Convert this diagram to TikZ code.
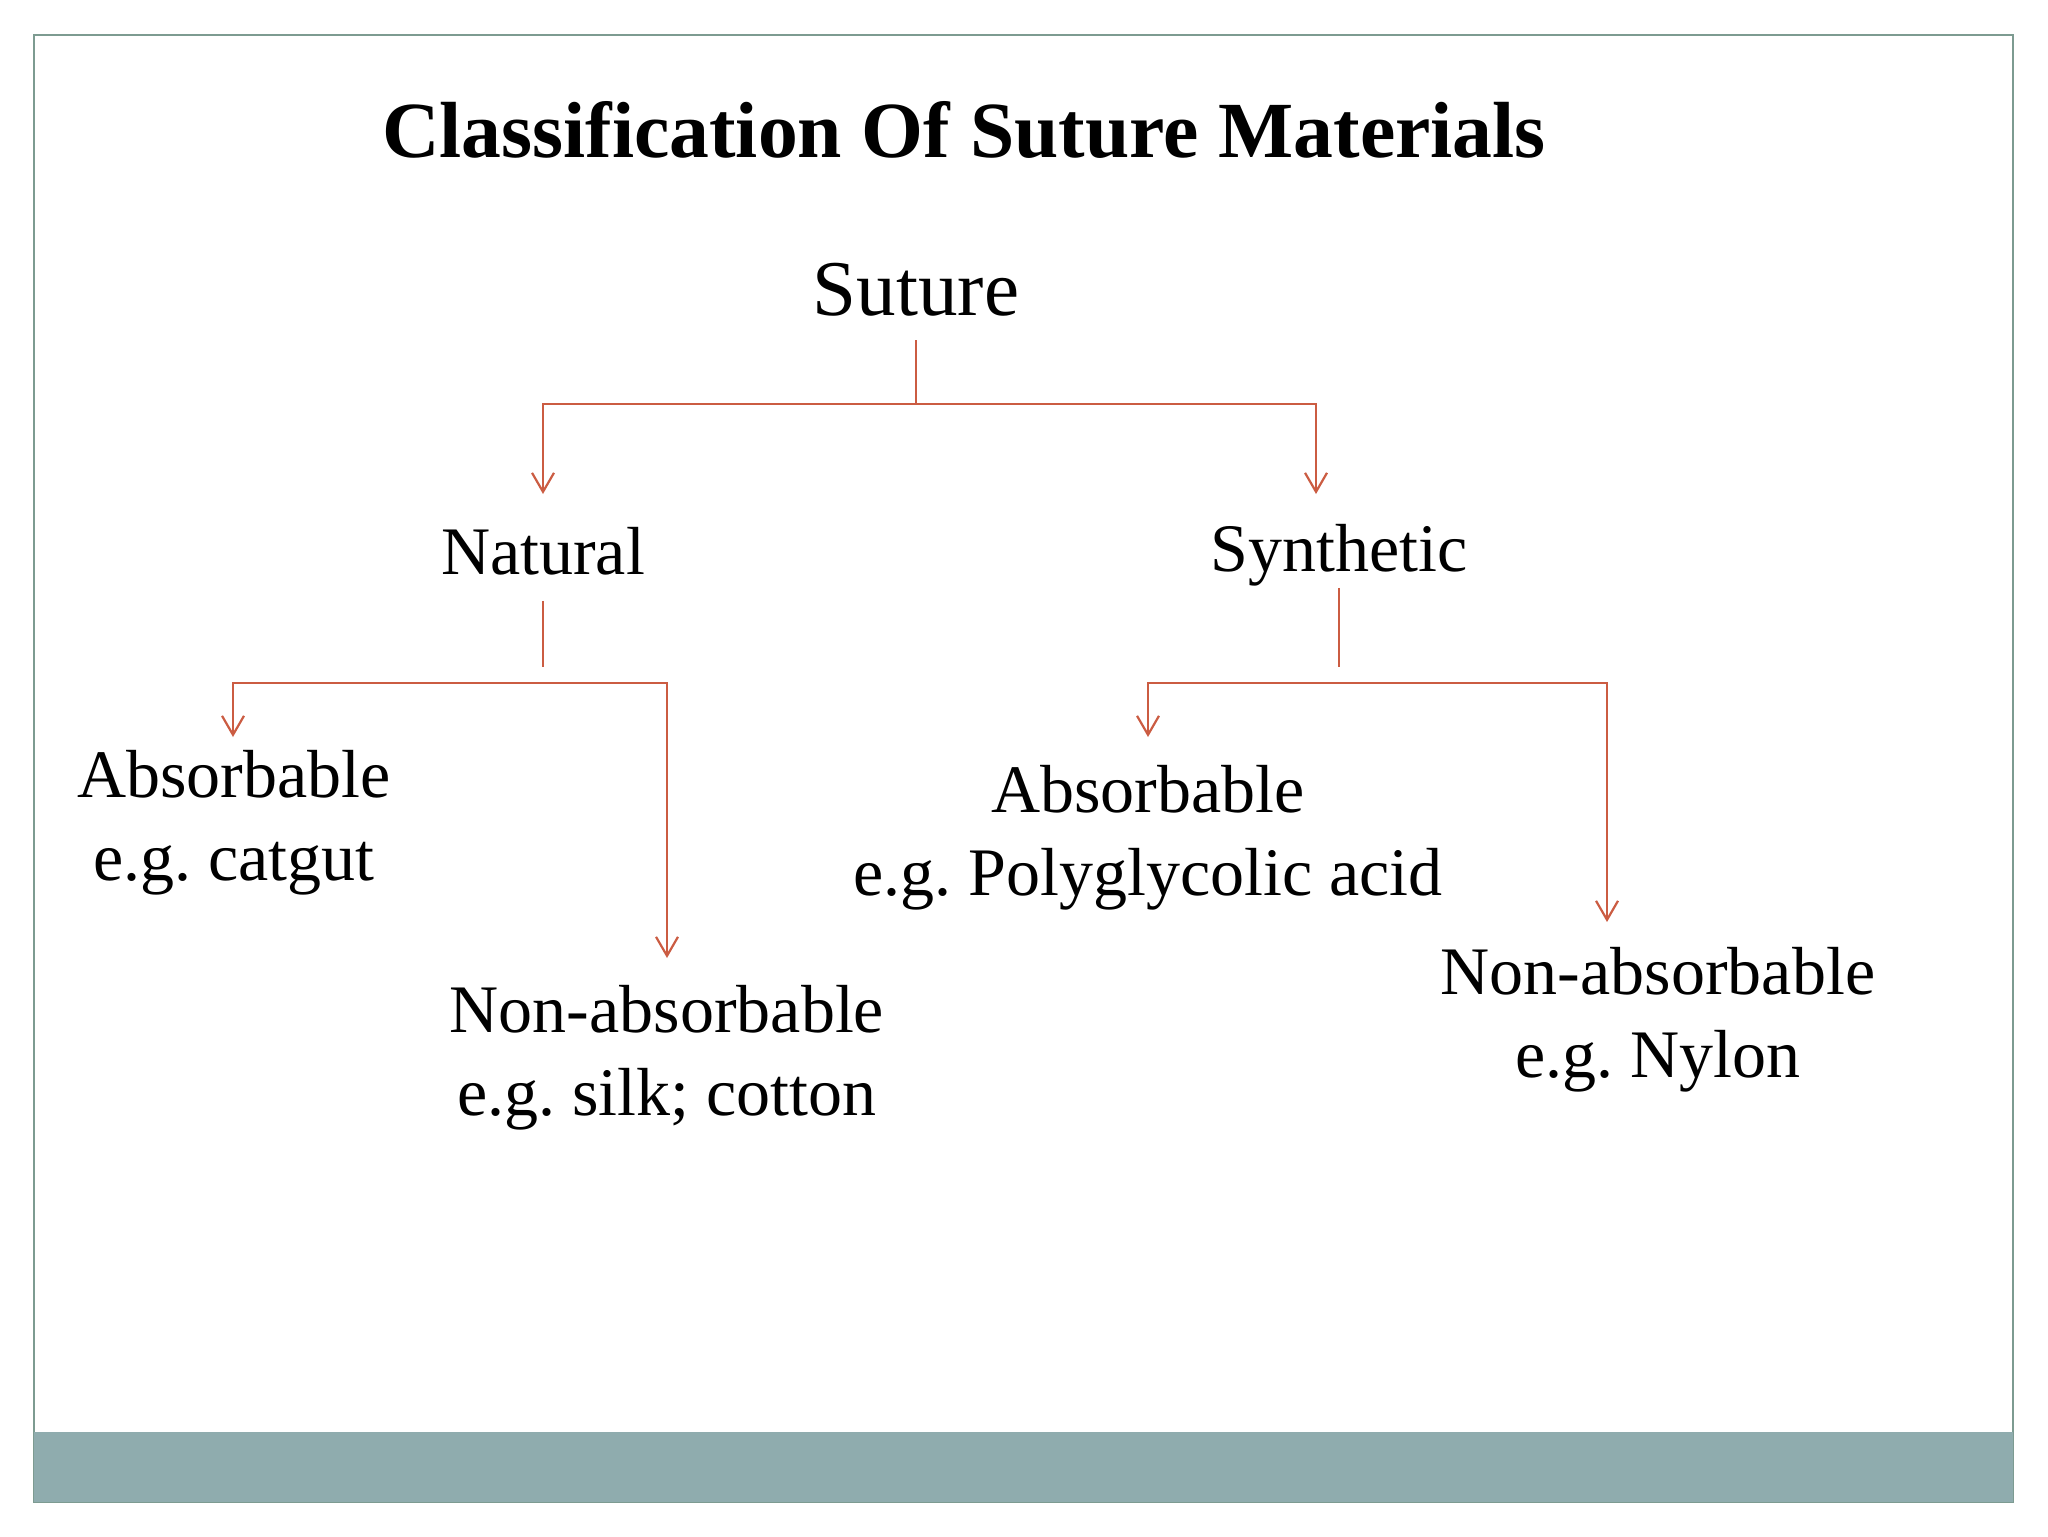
\documentclass[tikz,border=0pt]{standalone}
\usepackage{fontspec}
\setmainfont{Liberation Serif}
\usetikzlibrary{arrows.meta}

\definecolor{branchred}{RGB}{203,92,66}
\definecolor{framegray}{RGB}{125,155,145}
\definecolor{barteal}{RGB}{143,172,174}

\tikzset{every picture/.style={line width=0.75pt}}
\tikzset{
  branch/.style={draw=branchred, line width=1.1pt},
  barb/.tip={Straight Barb[length=9.5pt,width=11pt,line width=1.1pt]},
  branchto/.style={branch, -barb},
  titletext/.style={inner sep=0.75pt, anchor=base, font=\bfseries\fontsize{39.8}{48}\selectfont},
  roottext/.style={inner sep=0.75pt, anchor=base, font=\fontsize{39.5}{47}\selectfont},
  leaftext/.style={inner sep=0.75pt, anchor=base, align=center, font=\fontsize{34}{41.3}\selectfont},
}

\begin{document}
\frenchspacing
\begin{tikzpicture}[x=0.5pt,y=0.5pt,yscale=-1,xscale=1]
\path[use as bounding box] (0,0) rectangle (2048,1536);

%Frame and bottom bar
\draw[framegray] (34,35) rectangle (2013,1502);
\fill[barteal] (34,1432) rectangle (2013,1502);

% Text Node
\node[titletext] (title) at (964,157) {Classification Of Suture Materials};
% Text Node
\node[roottext] (suture) at (916,315) {Suture};
% Text Node
\node[leaftext] (natural) at (543,574) {Natural};
% Text Node
\node[leaftext] (synthetic) at (1339,571) {Synthetic};
% Text Node (base = last line)
\node[leaftext] (natabs) at (234,880) {Absorbable\\e.g. catgut};
% Text Node
\node[leaftext] (natnon) at (667,1115) {Non-absorbable\\e.g. silk; cotton};
% Text Node
\node[leaftext] (synabs) at (1148,895) {Absorbable\\e.g. Polyglycolic acid};
% Text Node
\node[leaftext] (synnon) at (1658,1077) {Non-absorbable\\e.g. Nylon};

% Junctions and tips
\coordinate (sutureBar) at (916,404);
\coordinate (naturalTip) at (543,494);
\coordinate (syntheticTip) at (1316,494);
\coordinate (naturalStemEnd) at (543,667);
\coordinate (syntheticStemEnd) at (1339,667);
\coordinate (naturalBar) at (543,683);
\coordinate (syntheticBar) at (1339,683);
\coordinate (natabsTip) at (233,737);
\coordinate (natnonTip) at (667,958);
\coordinate (synabsTip) at (1148,737);
\coordinate (synnonTip) at (1607,922);

%Straight Lines
\draw[branch, shorten <=11pt] (suture.south) -- (sutureBar);
\draw[branchto] (sutureBar) -| (naturalTip);
\draw[branchto] (sutureBar) -| (syntheticTip);
%Straight Lines
\draw[branch, shorten <=12pt] (natural.south) -- (naturalStemEnd);
\draw[branch, barb-barb] (natabsTip) |- (naturalBar) -| (natnonTip);
%Straight Lines
\draw[branch] (synthetic.south) -- (syntheticStemEnd);
\draw[branch, barb-barb] (synabsTip) |- (syntheticBar) -| (synnonTip);

\end{tikzpicture}
\end{document}
